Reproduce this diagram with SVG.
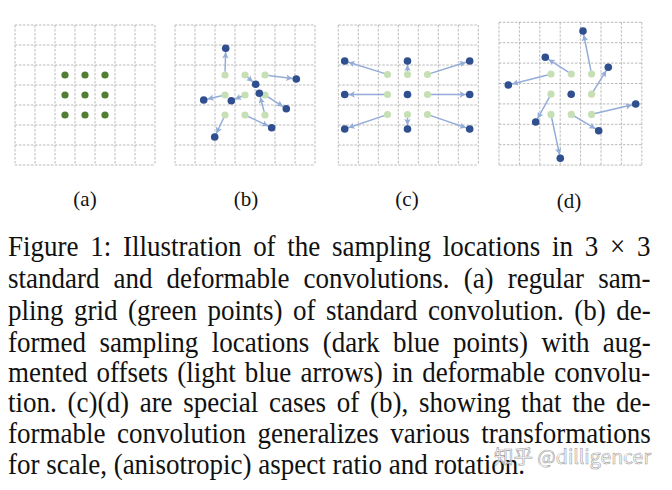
<svg xmlns="http://www.w3.org/2000/svg" width="672" height="490" viewBox="0 0 672 490">
<style>
.grid{fill:none;stroke:#a8a8a8;stroke-width:0.8;stroke-dasharray:2.5 1.5}
.g{fill:#507e32}
.lg{fill:#c6dfb5}
.b{fill:#2f4f8f}
.arr{fill:none;stroke:#94acd8;stroke-width:1.5;marker-end:url(#ah)}
.lab{font-family:"Liberation Serif","Times New Roman",serif;font-size:21px;fill:#111;text-anchor:middle}
.cap{font-family:"Liberation Serif","Times New Roman",serif;font-size:27px;fill:#111}
.wm{font-family:"Noto Sans CJK SC","Noto Sans",sans-serif;font-size:19.5px;fill:#ffffff;fill-opacity:0.75;stroke:#a0a0a0;stroke-width:0.6}
</style>
<defs>
<marker id="ah" markerUnits="userSpaceOnUse" markerWidth="12" markerHeight="8" viewBox="0 0 12 8" refX="10" refY="4" orient="auto" overflow="visible">
<path d="M0,0.8 L6,4 L0,7.2 L1.2,4 z" fill="#94acd8"/>
</marker>
</defs>
<rect width="672" height="490" fill="#ffffff"/>

<g id="grids">
<path class="grid" d="M15 25V165M35 25V165M55 25V165M75 25V165M95 25V165M115 25V165M135 25V165M155 25V165M15 25H155M15 45H155M15 65H155M15 85H155M15 105H155M15 125H155M15 145H155M15 165H155"/>
<path class="grid" d="M175 25V165M195 25V165M215 25V165M235 25V165M255 25V165M275 25V165M295 25V165M315 25V165M175 25H315M175 45H315M175 65H315M175 85H315M175 105H315M175 125H315M175 145H315M175 165H315"/>
<path class="grid" d="M338.3 25V165M358.3 25V165M378.3 25V165M398.3 25V165M418.3 25V165M438.3 25V165M458.3 25V165M478.3 25V165M338.3 25H478.3M338.3 45H478.3M338.3 65H478.3M338.3 85H478.3M338.3 105H478.3M338.3 125H478.3M338.3 145H478.3M338.3 165H478.3"/>
<path class="grid" d="M499 22.3V165.1M519.4 22.3V165.1M539.8 22.3V165.1M560.2 22.3V165.1M580.6 22.3V165.1M601 22.3V165.1M621.4 22.3V165.1M641.8 22.3V165.1M499 22.3H641.8M499 42.7H641.8M499 63.1H641.8M499 83.5H641.8M499 103.9H641.8M499 124.3H641.8M499 144.7H641.8M499 165.1H641.8"/>
</g>

<g id="panel-a-points">
<g id="a1"><circle class="g" cx="65" cy="75" r="3.6"/></g>
<g id="a2"><circle class="g" cx="85" cy="75" r="3.6"/></g>
<g id="a3"><circle class="g" cx="105" cy="75" r="3.6"/></g>
<g id="a4"><circle class="g" cx="65" cy="95" r="3.6"/></g>
<g id="a5"><circle class="g" cx="85" cy="95" r="3.6"/></g>
<g id="a6"><circle class="g" cx="105" cy="95" r="3.6"/></g>
<g id="a7"><circle class="g" cx="65" cy="115" r="3.6"/></g>
<g id="a8"><circle class="g" cx="85" cy="115" r="3.6"/></g>
<g id="a9"><circle class="g" cx="105" cy="115" r="3.6"/></g>
</g>

<g id="regular-points">
<g id="b-g1"><circle class="lg" cx="225" cy="75" r="3.6"/></g>
<g id="b-g2"><circle class="lg" cx="245" cy="75" r="3.6"/></g>
<g id="b-g3"><circle class="lg" cx="265" cy="75" r="3.6"/></g>
<g id="b-g4"><circle class="lg" cx="225" cy="95" r="3.6"/></g>
<g id="b-g5"><circle class="lg" cx="245" cy="95" r="3.6"/></g>
<g id="b-g6"><circle class="lg" cx="265" cy="95" r="3.6"/></g>
<g id="b-g7"><circle class="lg" cx="225" cy="115" r="3.6"/></g>
<g id="b-g8"><circle class="lg" cx="245" cy="115" r="3.6"/></g>
<g id="b-g9"><circle class="lg" cx="265" cy="115" r="3.6"/></g>
<g id="c-g1"><circle class="lg" cx="387.5" cy="74.5" r="3.6"/></g>
<g id="c-g2"><circle class="lg" cx="407.5" cy="74.5" r="3.6"/></g>
<g id="c-g3"><circle class="lg" cx="427.5" cy="74.5" r="3.6"/></g>
<g id="c-g4"><circle class="lg" cx="387.5" cy="94.5" r="3.6"/></g>
<g id="c-g6"><circle class="lg" cx="427.5" cy="94.5" r="3.6"/></g>
<g id="c-g7"><circle class="lg" cx="387.5" cy="114.5" r="3.6"/></g>
<g id="c-g8"><circle class="lg" cx="407.5" cy="114.5" r="3.6"/></g>
<g id="c-g9"><circle class="lg" cx="427.5" cy="114.5" r="3.6"/></g>
<g id="d-g1"><circle class="lg" cx="551" cy="74" r="3.6"/></g>
<g id="d-g2"><circle class="lg" cx="571.3" cy="74" r="3.6"/></g>
<g id="d-g3"><circle class="lg" cx="591.6" cy="74" r="3.6"/></g>
<g id="d-g4"><circle class="lg" cx="551" cy="94.2" r="3.6"/></g>
<g id="d-g6"><circle class="lg" cx="591.6" cy="94.2" r="3.6"/></g>
<g id="d-g7"><circle class="lg" cx="551" cy="114.4" r="3.6"/></g>
<g id="d-g8"><circle class="lg" cx="571.3" cy="114.4" r="3.6"/></g>
<g id="d-g9"><circle class="lg" cx="591.6" cy="114.4" r="3.6"/></g>
</g>

<g id="connectors">
<line class="arr" x1="225.1" y1="71.5" x2="225.7" y2="48.3"/>
<line class="arr" x1="247.6" y1="77.3" x2="255.7" y2="84.3"/>
<line class="arr" x1="268.5" y1="75.4" x2="296.3" y2="79"/>
<line class="arr" x1="221.6" y1="95.8" x2="203.7" y2="100"/>
<line class="arr" x1="241.8" y1="96.3" x2="231.3" y2="100.7"/>
<line class="arr" x1="267.9" y1="96.9" x2="286.3" y2="108.7"/>
<line class="arr" x1="223.5" y1="118.2" x2="214.7" y2="137"/>
<line class="arr" x1="248.2" y1="116.5" x2="271.7" y2="127.7"/>
<line class="arr" x1="264.1" y1="111.6" x2="259.3" y2="93.3"/>

<line class="arr" x1="384.2" y1="73.4" x2="344.7" y2="61"/>
<line class="arr" x1="407.5" y1="71" x2="407.5" y2="61"/>
<line class="arr" x1="430.8" y1="73.4" x2="469.7" y2="61"/>
<line class="arr" x1="384" y1="94.5" x2="344.7" y2="94.5"/>
<line class="arr" x1="431" y1="94.5" x2="469.7" y2="94.5"/>
<line class="arr" x1="384.2" y1="115.6" x2="344.7" y2="129"/>
<line class="arr" x1="407.5" y1="118" x2="407.5" y2="129"/>
<line class="arr" x1="430.8" y1="115.6" x2="469.7" y2="129"/>

<line class="arr" x1="590.9" y1="70.6" x2="583" y2="31"/>
<line class="arr" x1="568.4" y1="72.1" x2="545.3" y2="57.3"/>
<line class="arr" x1="547.6" y1="74.9" x2="508.3" y2="85"/>
<line class="arr" x1="593.4" y1="91.2" x2="608.3" y2="67.3"/>
<line class="arr" x1="549.3" y1="97.3" x2="535.7" y2="122"/>
<line class="arr" x1="595" y1="113.6" x2="635.7" y2="104"/>
<line class="arr" x1="574.3" y1="116.2" x2="598.7" y2="130.7"/>
<line class="arr" x1="551.7" y1="117.8" x2="560.3" y2="158.3"/>
</g>

<g id="deformed-points">
<g id="b-b1"><circle class="b" cx="225.7" cy="48.3" r="3.8"/></g>
<g id="b-b2"><circle class="b" cx="255.7" cy="84.3" r="3.8"/></g>
<g id="b-b3"><circle class="b" cx="296.3" cy="79" r="3.8"/></g>
<g id="b-b4"><circle class="b" cx="203.7" cy="100" r="3.8"/></g>
<g id="b-b5"><circle class="b" cx="231.3" cy="100.7" r="3.8"/></g>
<g id="b-b6"><circle class="b" cx="286.3" cy="108.7" r="3.8"/></g>
<g id="b-b7"><circle class="b" cx="214.7" cy="137" r="3.8"/></g>
<g id="b-b8"><circle class="b" cx="271.7" cy="127.7" r="3.8"/></g>
<g id="b-b9"><circle class="b" cx="259.3" cy="93.3" r="3.8"/></g>
<g id="c-b1"><circle class="b" cx="344.7" cy="61" r="3.8"/></g>
<g id="c-b2"><circle class="b" cx="407.5" cy="61" r="3.8"/></g>
<g id="c-b3"><circle class="b" cx="469.7" cy="61" r="3.8"/></g>
<g id="c-b4"><circle class="b" cx="344.7" cy="94.5" r="3.8"/></g>
<g id="c-b5"><circle class="b" cx="407.5" cy="94.5" r="3.8"/></g>
<g id="c-b6"><circle class="b" cx="469.7" cy="94.5" r="3.8"/></g>
<g id="c-b7"><circle class="b" cx="344.7" cy="129" r="3.8"/></g>
<g id="c-b8"><circle class="b" cx="407.5" cy="129" r="3.8"/></g>
<g id="c-b9"><circle class="b" cx="469.7" cy="129" r="3.8"/></g>
<g id="d-b1"><circle class="b" cx="583" cy="31" r="3.8"/></g>
<g id="d-b2"><circle class="b" cx="545.3" cy="57.3" r="3.8"/></g>
<g id="d-b3"><circle class="b" cx="508.3" cy="85" r="3.8"/></g>
<g id="d-b4"><circle class="b" cx="608.3" cy="67.3" r="3.8"/></g>
<g id="d-b5"><circle class="b" cx="571.2" cy="94.2" r="3.8"/></g>
<g id="d-b6"><circle class="b" cx="535.7" cy="122" r="3.8"/></g>
<g id="d-b7"><circle class="b" cx="635.7" cy="104" r="3.8"/></g>
<g id="d-b8"><circle class="b" cx="598.7" cy="130.7" r="3.8"/></g>
<g id="d-b9"><circle class="b" cx="560.3" cy="158.3" r="3.8"/></g>
</g>

<g id="labels">
<text class="lab" x="85" y="206">(a)</text>
<text class="lab" x="246" y="206">(b)</text>
<text class="lab" x="407" y="206">(c)</text>
<text class="lab" x="569" y="208">(d)</text>
</g>

<g id="caption" transform="scale(1,1.13)">
<text class="cap" x="8" y="226.5" word-spacing="5.0">Figure 1: Illustration of the sampling locations in 3 × 3</text>
<text class="cap" x="8" y="254.9" word-spacing="7.3">standard and deformable convolutions. (a) regular sam-</text>
<text class="cap" x="8" y="283.2" word-spacing="3.8">pling grid (green points) of standard convolution. (b) de-</text>
<text class="cap" x="8" y="311.1" word-spacing="6.7">formed sampling locations (dark blue points) with aug-</text>
<text class="cap" x="8" y="338.1" word-spacing="2.4">mented offsets (light blue arrows) in deformable convolu-</text>
<text class="cap" x="8" y="365.0" word-spacing="4.0">tion. (c)(d) are special cases of (b), showing that the de-</text>
<text class="cap" x="8" y="392.3" word-spacing="4.8">formable convolution generalizes various transformations</text>
<text class="cap" x="8" y="419.3">for scale, (anisotropic) aspect ratio and rotation.</text>
</g>

<g id="watermark">
<text class="wm" x="494" y="464">知乎 @dilligencer</text>
</g>
</svg>
